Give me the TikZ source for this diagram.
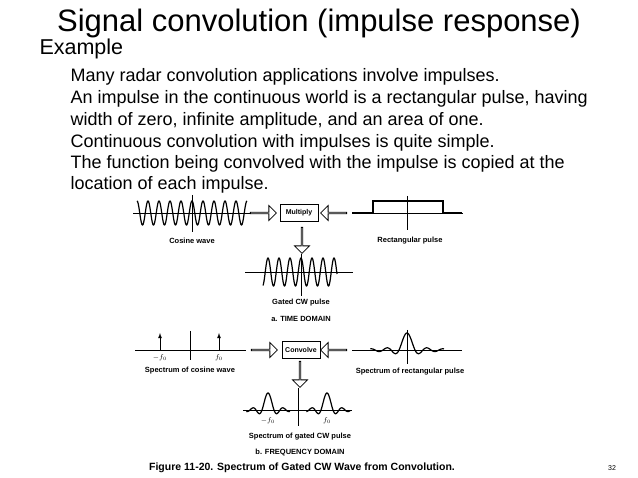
\documentclass[tikz,border=0pt]{standalone}
\usepackage{fontspec}
\setmainfont{Liberation Sans}
\usetikzlibrary{shapes.arrows}
\tikzset{
  harrow/.style={single arrow, draw, thick, minimum height=26pt, minimum width=15pt, single arrow head extend=3.5pt, inner sep=0pt},
  opbox/.style={draw, thick, minimum width=38pt, minimum height=17pt, inner sep=1pt, font=\fontsize{7}{8}\selectfont\bfseries},
  lbl/.style={font=\fontsize{7.5}{8}\selectfont\bfseries},
  wave/.style={line width=1.2pt},
  axisl/.style={line width=0.8pt},
  body/.style={anchor=west, font=\fontsize{18}{20}\selectfont}
}
\begin{document}
\begin{tikzpicture}[x=1pt,y=-1pt]
\useasboundingbox (0,0) rectangle (638,478);
\node[font=\fontsize{31}{34}\selectfont] (title) at (319,23) {Signal convolution (impulse response)};
\node[anchor=west, font=\fontsize{21.5}{24}\selectfont] (ex) at (36,49) {Example};
\node[body] (l1) at (67,77) {Many radar convolution applications involve impulses.};
\node[body] (l2) at (67,99) {An impulse in the continuous world is a rectangular pulse, having};
\node[body] (l3) at (67,121) {width of zero, infinite amplitude, and an area of one.};
\node[body] (l4) at (67,143) {Continuous convolution with impulses is quite simple.};
\node[body] (l5) at (67,164) {The function being convolved with the impulse is copied at the};
\node[body] (l6) at (67,185) {location of each impulse.};
% time domain
\draw[axisl] (133,213) -- (250,213);
\draw[wave,domain=137:247,samples=300] plot (\x,{213-12*cos((\x-192)*32.727)});
\draw[axisl] (192,195) -- (192,232);
\node[lbl] (cw) at (192,241) {Cosine wave};
\node[opbox] (mul) at (299,213) {Multiply};
\node[harrow] (a1) at (263,213) {};
\node[harrow, shape border rotate=180] (a2) at (334,213) {};
\draw[axisl] (353,213) -- (463,213);
\draw[wave] (352,213) -- (373,213) -- (373,201) -- (443,201) -- (443,213) -- (462,213);
\draw[axisl] (407,196) -- (407,230);
\node[lbl] (rp) at (410,241) {Rectangular pulse};
\node[harrow, shape border rotate=270] (a3) at (302,240) {};
\draw[axisl] (245,272) -- (353,272);
\draw[wave,domain=263:337,samples=250] plot (\x,{272-14*cos((\x-301)*32.727)});
\draw[axisl] (301,254) -- (301,296);
\node[lbl] (g) at (301,303) {Gated CW pulse};
\node[lbl] (td) at (301,319) {a. TIME DOMAIN};
% frequency domain
\draw[axisl] (135,350) -- (246,350);
\draw[axisl,-latex] (160,351) -- (160,333);
\draw[axisl,-latex] (219,351) -- (219,333);
\draw[axisl] (190,331) -- (190,360);
\node[lbl] at (160,358) {$-f_0$};
\node[lbl] at (219,358) {$f_0$};
\node[lbl] (sc) at (190,371) {Spectrum of cosine wave};
\node[opbox] (cv) at (301,350) {Convolve};
\node[harrow] (b1) at (264,350) {};
\node[harrow, shape border rotate=180] (b2) at (334,350) {};
\draw[axisl] (352,350) -- (462,350);
\draw[wave,domain=370.3:444,samples=200] plot (\x,{350-17*sin(deg((\x-407)*pi/8))/((\x-407)*pi/8)});
\draw[axisl] (407,330) -- (407,364);
\node[lbl] (sr) at (410,372) {Spectrum of rectangular pulse};
\node[harrow, shape border rotate=270] (b3) at (300,374) {};
\draw[axisl] (243,410) -- (352,410);
\draw[wave,domain=246.3:290,samples=200] plot (\x,{410-17*sin(deg((\x-268)*pi/6))/((\x-268)*pi/6)});
\draw[wave,domain=306.3:350,samples=200] plot (\x,{410-17*sin(deg((\x-327)*pi/6))/((\x-327)*pi/6)});
\draw[axisl] (298,388) -- (298,426);
\node[lbl] at (268,421) {$-f_0$};
\node[lbl] at (327,421) {$f_0$};
\node[lbl] (sg) at (300,437) {Spectrum of gated CW pulse};
\node[lbl] (fd) at (300,453) {b. FREQUENCY DOMAIN};
\node[font=\fontsize{10.5}{12}\selectfont\bfseries] (cap) at (302,468) {Figure 11-20. Spectrum of Gated CW Wave from Convolution.};
\node[font=\fontsize{7}{8}\selectfont] (pg) at (612,468) {32};
\end{tikzpicture}
\end{document}
